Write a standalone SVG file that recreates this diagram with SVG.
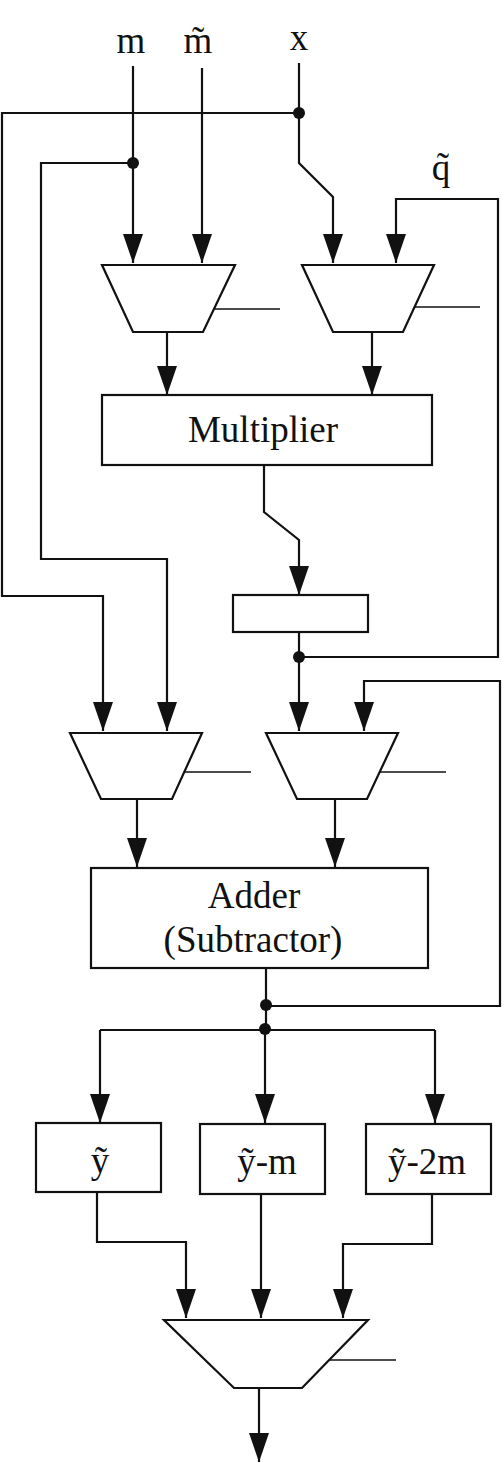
<svg xmlns="http://www.w3.org/2000/svg" width="504" height="1463" viewBox="0 0 504 1463">
<style>
.t{font-family:"Liberation Serif","Times New Roman",serif;font-size:37px;fill:#111;text-anchor:middle}
.b{fill:#fff;stroke:#111;stroke-width:2.2}
.w{fill:none;stroke:#111;stroke-width:2.2;stroke-linejoin:miter}
.a{marker-end:url(#ah)}
.s{fill:none;stroke:#111;stroke-width:1.4}
.d{fill:#111}
</style>
<defs>
<marker id="ah" markerUnits="userSpaceOnUse" markerWidth="29" markerHeight="20" refX="29" refY="10" orient="auto">
<path d="M0,0 L29,10 L0,20 Z" fill="#111"/>
</marker>
</defs>
<rect width="504" height="1463" fill="#fff"/>
<g id="connectors">
<path class="w a" d="M133,66 V263"/>
<path class="w a" d="M202,68 V263"/>
<path class="w a" d="M299,63 V163 L333,197 V263"/>
<path class="w a" d="M299,113 H2 V596 H103 V731"/>
<path class="w a" d="M133,163 H41 V559 H167 V731"/>
<path class="w a" d="M299,657 H498 V199 H396 V263"/>
<path class="w a" d="M167,332 V395"/>
<path class="w a" d="M372,332 V395"/>
<path class="w a" d="M264,465 V512 L299,540 V595"/>
<path class="w a" d="M299,632 V731"/>
<path class="w a" d="M266,968 V1006 H500 V681 H364 V731"/>
<path class="w a" d="M137,799 V867"/>
<path class="w a" d="M335,799 V867"/>
<path class="w" d="M266,1006 V1030"/>
<path class="w a" d="M100,1030 V1123"/>
<path class="w" d="M100,1030 H435"/>
<path class="w a" d="M435,1030 V1123"/>
<path class="w a" d="M265,1030 V1123"/>
<path class="w a" d="M97,1192 V1242 H186 V1318"/>
<path class="w a" d="M261,1194 V1318"/>
<path class="w a" d="M432,1194 V1244 H343 V1318"/>
<path class="w a" d="M259,1388 V1462"/>
<circle class="d" cx="299" cy="113" r="6"/>
<circle class="d" cx="133" cy="163" r="6"/>
<circle class="d" cx="299" cy="657" r="6"/>
<circle class="d" cx="266" cy="1005" r="6"/>
<circle class="d" cx="265" cy="1029" r="6"/>
</g>
<g id="in-m"><text class="t" x="131" y="53">m</text></g>
<g id="in-mt"><text class="t" x="198" y="53">m̃</text></g>
<g id="in-x"><text class="t" x="299" y="50">x</text></g>
<g id="in-q"><text class="t" x="441" y="180">q̃</text></g>
<g id="mux1"><polygon class="b" points="102,265 235,265 203,332 133,332"/><line class="s" x1="215" y1="309" x2="280" y2="309"/></g>
<g id="mux2"><polygon class="b" points="302,265 434,265 403,332 333,332"/><line class="s" x1="415" y1="307" x2="480" y2="307"/></g>
<g id="multiplier"><rect class="b" x="102" y="395" width="330" height="70"/><text class="t" x="263" y="442">Multiplier</text></g>
<g id="register"><rect class="b" x="233" y="595" width="135" height="37"/></g>
<g id="mux3"><polygon class="b" points="70,733 202,733 172,799 101,799"/><line class="s" x1="185" y1="772" x2="251" y2="772"/></g>
<g id="mux4"><polygon class="b" points="266,733 398,733 367,799 297,799"/><line class="s" x1="380" y1="772" x2="446" y2="772"/></g>
<g id="adder"><rect class="b" x="91" y="868" width="337" height="100"/><text class="t" x="254" y="908">Adder</text><text class="t" x="253" y="952">(Subtractor)</text></g>
<g id="reg-y"><rect class="b" x="36" y="1123" width="125" height="69"/><text class="t" x="100" y="1173">ỹ</text></g>
<g id="reg-ym"><rect class="b" x="200" y="1124" width="125" height="70"/><text class="t" x="267" y="1174">ỹ-m</text></g>
<g id="reg-y2m"><rect class="b" x="366" y="1124" width="125" height="70"/><text class="t" x="427" y="1174">ỹ-2m</text></g>
<g id="mux5"><polygon class="b" points="164,1320 368,1320 302,1388 234,1388"/><line class="s" x1="330" y1="1360" x2="396" y2="1360"/></g>
</svg>
